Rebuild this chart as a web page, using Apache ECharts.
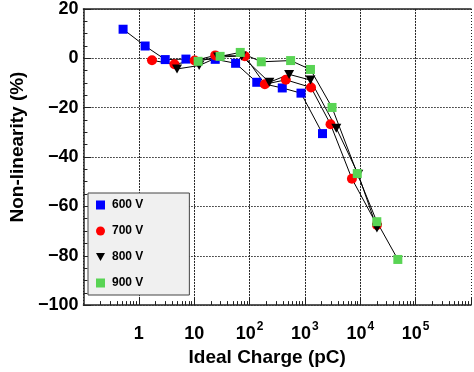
<!DOCTYPE html>
<html><head><meta charset="utf-8">
<script src="https://cdn.jsdelivr.net/npm/echarts@6/dist/echarts.min.js"></script>
<style>html,body{margin:0;padding:0;background:#fff}#c{width:474px;height:372px}</style>
</head><body><div id="c"></div>
<script>
const x600 = [0.52, 1.3, 3.0, 7.1, 24, 56, 135, 390, 850, 2080];
const y600 = [11.8, 5.0, -0.5, -0.3, -0.4, -2.0, -9.7, -12.0, -14.1, -30.5];
const x700 = [1.73, 4.4, 10.2, 24, 82, 189, 452, 1290, 2900, 7070, 20000];
const y700 = [-0.8, -2.4, -0.9, 1.2, 0.9, -10.5, -8.7, -11.8, -26.7, -48.8, -67.5];
const x800 = [4.9, 12.3, 27, 72, 228, 519, 1260, 3690, 9200, 20000];
const y800 = [-4.3, -2.9, 0.5, 1.0, -9.7, -6.5, -8.8, -28.3, -47.0, -68.8];
const x900 = [11.8, 29.4, 68, 163, 552, 1260, 3090, 8830, 19900, 47700];
const y900 = [-1.2, 0.8, 2.4, -1.4, -0.9, -4.5, -19.9, -46.7, -66.2, -81.5];
const seriesNames = ['600 V', '700 V', '800 V', '900 V'];
const yGridValues = [0, -20, -40, -60, -80];
const xGridValues = [1, 10, 100, 1000, 10000, 100000];
const yTicks = { min: -100, max: 20, step: 20 };
const xRange = { min: 0.1, max: 1e6 };

const FONT = '"Liberation Sans", Arial, Helvetica, sans-serif';
const minorLog = [];
for (let n = -1; n <= 5; n++) for (let k = 2; k <= 9; k++) minorLog.push(Math.log10(k * Math.pow(10, n)));

function pairs(xs, ys) { return xs.map((x, i) => [x, ys[i]]); }
const tri = 'path://M0,0 L10,0 L5,9 Z';
const styles = [
  { symbol: 'rect', color: '#0000ff', size: 9 },
  { symbol: 'circle', color: '#ff0000', size: 10 },
  { symbol: tri, color: '#000000', size: [10, 9] },
  { symbol: 'rect', color: '#59d454', size: 9 }
];
const datas = [pairs(x600, y600), pairs(x700, y700), pairs(x800, y800), pairs(x900, y900)];
const dotted = { color: '#222', type: [1, 2], width: 1 };

const chart = echarts.init(document.getElementById('c'));
chart.setOption({
  animation: false,
  backgroundColor: '#ffffff',
  textStyle: { fontFamily: FONT },
  grid: { left: 62, top: 6, right: -18.5, bottom: 54 },
  xAxis: [{
    type: 'log', logBase: 10, min: xRange.min, max: xRange.max,
    name: 'Ideal Charge (pC)', nameLocation: 'middle', nameGap: 42,
    nameTextStyle: { fontSize: 19, fontWeight: 'bold', color: '#000', fontFamily: FONT, padding: [0, 20, 0, 0], verticalAlign: 'top' },
    axisLine: { show: true, onZero: false, lineStyle: { color: '#222', width: 1.5 } },
    axisTick: { show: true, inside: true, length: 8, lineStyle: { color: '#222' } },
    splitLine: { show: true, lineStyle: dotted },
    axisLabel: {
      margin: 16, color: '#000', fontSize: 18, fontWeight: 'bold', fontFamily: FONT,
      showMinLabel: false,
      formatter: function (v) {
        if (v < 0.9 || v > 2e5) return '';
        const n = Math.round(Math.log10(v));
        if (n === 0) return '{b|1}';
        if (n === 1) return '{b|10}';
        return '{b|10}{s|' + n + '}';
      },
      rich: {
        b: { fontSize: 18, fontWeight: 'bold', fontFamily: FONT, color: '#000', lineHeight: 22, verticalAlign: 'bottom' },
        s: { fontSize: 12, fontWeight: 'bold', fontFamily: FONT, color: '#000', lineHeight: 22, verticalAlign: 'top', padding: [0, 0, 8, 1] }
      }
    }
  }, {
    type: 'value', min: -1, max: 6, position: 'bottom',
    axisLine: { show: false, onZero: false },
    axisLabel: { show: false },
    splitLine: { show: false },
    axisTick: { show: true, inside: true, length: 4, customValues: minorLog, lineStyle: { color: '#222' } }
  }, {
    type: 'value', min: -1, max: 6, position: 'top',
    axisLine: { show: true, onZero: false, lineStyle: { color: '#222', width: 1.5 } },
    axisLabel: { show: false },
    axisTick: { show: false },
    splitLine: { show: false }
  }],
  yAxis: {
    type: 'value', min: yTicks.min, max: yTicks.max, interval: yTicks.step,
    name: 'Non-linearity (%)', nameLocation: 'middle', nameGap: 51,
    nameTextStyle: { fontSize: 19, fontWeight: 'bold', color: '#000', fontFamily: FONT, padding: [0, 0, 0, 20] },
    axisLine: { show: true, onZero: false, lineStyle: { color: '#222', width: 1.5 } },
    axisTick: { show: true, inside: true, length: 8, lineStyle: { color: '#222' } },
    minorTick: { show: true, splitNumber: 4, length: 4, lineStyle: { color: '#222' } },
    splitLine: { show: true, lineStyle: dotted },
    axisLabel: {
      margin: 5, color: '#000', fontSize: 18, fontWeight: 'bold', fontFamily: FONT,
      formatter: v => (v < 0 ? '\u2212' + Math.abs(v) : String(v))
    }
  },
  legend: {
    orient: 'vertical', left: 88, top: 193,
    backgroundColor: '#f0f0f0', borderColor: '#444', borderWidth: 1,
    padding: [5, 46, 5, 8], itemGap: 12, itemWidth: 9, itemHeight: 9,
    textStyle: { fontSize: 12, fontWeight: 'bold', color: '#000', fontFamily: FONT, lineHeight: 14, padding: [0, 0, 0, 2] },
    data: seriesNames.map((n, i) => ({ name: n, icon: styles[i].symbol }))
  },
  series: seriesNames.map((n, i) => {
    const s = {
      name: n, type: 'line', data: datas[i],
      symbol: styles[i].symbol, symbolSize: styles[i].size,
      showAllSymbol: true,
      itemStyle: { color: styles[i].color },
      lineStyle: { color: '#000', width: 1 },
      emphasis: { disabled: true }
    };
    if (i === 0) {
      s.markLine = {
        silent: true, symbol: 'none', z: 1, animation: false,
        label: { show: false },
        lineStyle: dotted,
        emphasis: { disabled: true },
        data: xGridValues.map(v => ({ xAxis: v })).concat(yGridValues.map(v => ({ yAxis: v })))
      };
    }
    return s;
  })
});
</script></body></html>
